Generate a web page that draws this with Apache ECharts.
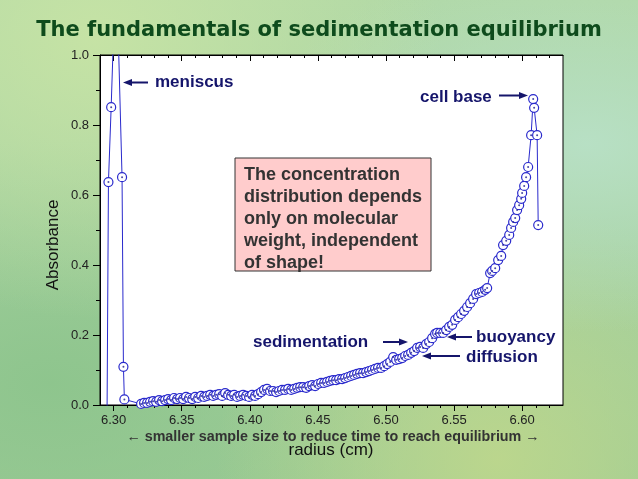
<!DOCTYPE html>
<html>
<head>
<meta charset="utf-8">
<script src="https://cdn.jsdelivr.net/npm/echarts@6/dist/echarts.min.js"></script>
<style>
  html, body { margin: 0; padding: 0; }
  #chart {
    width: 638px; height: 479px;
    background:
      radial-gradient(ellipse at 15% 8%, rgba(200,228,165,0.9), rgba(200,228,165,0) 45%),
      radial-gradient(ellipse at 92% 30%, rgba(185,225,200,0.9), rgba(185,225,200,0) 40%),
      radial-gradient(ellipse at 78% 96%, rgba(190,215,140,0.9), rgba(190,215,140,0) 40%),
      radial-gradient(ellipse at 8% 80%, rgba(140,196,140,0.9), rgba(140,196,140,0) 45%),
      linear-gradient(180deg, #b0d8a6 0%, #a6d1a0 50%, #9ccb96 100%);
  }
</style>
</head>
<body>
<div id="chart"></div>
<script>
// radius (cm) / absorbance, meniscus spike first
const radius = [
  6.2949, 6.2962, 6.2982, 6.3018, 6.3062, 6.3072, 6.3079,
  6.3202, 6.3224, 6.3246, 6.3268, 6.3290, 6.3312, 6.3334, 6.3356, 6.3378, 6.3400,
  6.3422, 6.3444, 6.3466, 6.3488, 6.3510, 6.3532, 6.3554, 6.3577, 6.3599, 6.3621,
  6.3643, 6.3665, 6.3687, 6.3709, 6.3731, 6.3753, 6.3775, 6.3797, 6.3819, 6.3841,
  6.3863, 6.3885, 6.3907, 6.3929, 6.3951, 6.3973, 6.3995, 6.4017, 6.4039, 6.4061,
  6.4083, 6.4105, 6.4127, 6.4149, 6.4171, 6.4193, 6.4215, 6.4237, 6.4259, 6.4282,
  6.4304, 6.4326, 6.4348, 6.4370, 6.4392, 6.4414, 6.4436, 6.4458, 6.4480, 6.4502,
  6.4524, 6.4546, 6.4568, 6.4590, 6.4612, 6.4634, 6.4656, 6.4678, 6.4700, 6.4722,
  6.4744, 6.4766, 6.4788, 6.4810, 6.4832, 6.4854, 6.4876, 6.4898, 6.4920, 6.4942,
  6.4965, 6.4987, 6.5009, 6.5031, 6.5053, 6.5075, 6.5097, 6.5119, 6.5141, 6.5163,
  6.5185, 6.5207, 6.5229, 6.5251, 6.5273, 6.5295, 6.5317, 6.5339, 6.5361, 6.5376,
  6.5398, 6.5420, 6.5442, 6.5464, 6.5486, 6.5508, 6.5530, 6.5552, 6.5574, 6.5596,
  6.5618, 6.5640, 6.5662, 6.5684, 6.5706, 6.5728, 6.5743, 6.5765, 6.5780, 6.5802,
  6.5824, 6.5846, 6.5860, 6.5883, 6.5905, 6.5919, 6.5934, 6.5949, 6.5963, 6.5978,
  6.5993, 6.6000, 6.6015, 6.6029, 6.6044, 6.6066, 6.6081, 6.6088, 6.6110, 6.6118
];
const absorbance = [
  -0.200, 0.637, 0.851, 1.286, 0.651, 0.109, 0.016,
  0.003, 0.006, 0.006, 0.009, 0.011, 0.009, 0.014, 0.011, 0.014, 0.017,
  0.014, 0.020, 0.017, 0.020, 0.017, 0.023, 0.020, 0.017, 0.023, 0.020,
  0.026, 0.023, 0.026, 0.029, 0.026, 0.029, 0.031, 0.026, 0.034, 0.029,
  0.026, 0.029, 0.023, 0.026, 0.029, 0.026, 0.023, 0.029, 0.026, 0.031,
  0.037, 0.043, 0.046, 0.040, 0.040, 0.037, 0.040, 0.043, 0.043, 0.046,
  0.043, 0.046, 0.049, 0.051, 0.051, 0.049, 0.054, 0.057, 0.054, 0.060,
  0.063, 0.063, 0.066, 0.069, 0.071, 0.071, 0.074, 0.074, 0.077, 0.080,
  0.083, 0.086, 0.089, 0.091, 0.091, 0.094, 0.097, 0.100, 0.103, 0.106,
  0.106, 0.111, 0.117, 0.123, 0.137, 0.129, 0.131, 0.134, 0.140, 0.143,
  0.149, 0.154, 0.163, 0.166, 0.163, 0.174, 0.180, 0.191, 0.203, 0.206,
  0.206, 0.206, 0.214, 0.223, 0.229, 0.243, 0.251, 0.260, 0.269, 0.280,
  0.291, 0.303, 0.317, 0.320, 0.323, 0.329, 0.334, 0.377, 0.383, 0.391,
  0.414, 0.426, 0.457, 0.469, 0.486, 0.506, 0.523, 0.534, 0.557, 0.571,
  0.589, 0.606, 0.626, 0.651, 0.680, 0.771, 0.874, 0.849, 0.771, 0.514
];
const xMajor = [6.30, 6.35, 6.40, 6.45, 6.50, 6.55, 6.60];
const xMinor = [6.31, 6.32, 6.33, 6.34, 6.36, 6.37, 6.38, 6.39, 6.41, 6.42, 6.43, 6.44,
  6.46, 6.47, 6.48, 6.49, 6.51, 6.52, 6.53, 6.54, 6.56, 6.57, 6.58, 6.59, 6.61, 6.62];

const navy = '#15156b';
const blue = '#2a2acc';
const FONT = '"Liberation Sans", Arial, sans-serif';

const points = radius.map((r, i) => [r, absorbance[i]]);

// arrow = shaft + filled head, tip at x2
function arrow(x1, x2, y) {
  const dir = x2 > x1 ? 1 : -1;
  const base = x2 - dir * 9;
  return [
    { type: 'line', shape: { x1: x1, y1: y, x2: base, y2: y }, style: { stroke: navy, lineWidth: 2 } },
    { type: 'polygon', shape: { points: [[x2, y], [base, y - 3.5], [base, y + 3.5]] }, style: { fill: navy } }
  ];
}
function label(text, x, y, size) {
  return {
    type: 'text',
    style: { text: text, x: x, y: y, font: 'bold ' + size + 'px ' + FONT, fill: navy,
      align: 'left', verticalAlign: 'middle', textAlign: 'left', textVerticalAlign: 'middle' }
  };
}

const chart = echarts.init(document.getElementById('chart'));

const tickLine = { lineStyle: { color: '#000', width: 1 } };
const xBase = { type: 'value', min: 6.29, max: 6.63, splitLine: { show: false } };

const option = {
  animation: false,
  grid: {
    left: 100, right: 75, top: 55, bottom: 74,
    show: true, backgroundColor: '#fff', borderColor: '#000', borderWidth: 1
  },
  xAxis: [
    Object.assign({}, xBase, {
      position: 'bottom',
      axisLine: { show: true, lineStyle: { color: '#000', width: 1 } },
      axisTick: Object.assign({ show: true, customValues: xMajor, length: 6, inside: false }, tickLine),
      axisLabel: { customValues: xMajor, formatter: v => v.toFixed(2), fontSize: 13,
        fontFamily: FONT, color: '#222', margin: 9 }
    }),
    Object.assign({}, xBase, {
      position: 'bottom',
      axisLine: { show: false },
      axisTick: Object.assign({ show: true, customValues: xMinor, length: 3, inside: false }, tickLine),
      axisLabel: { show: false }
    }),
    Object.assign({}, xBase, {
      position: 'top',
      axisLine: { show: true, lineStyle: { color: '#000', width: 1 } },
      axisTick: Object.assign({ show: true, customValues: xMajor, length: 6, inside: true }, tickLine),
      axisLabel: { show: false }
    }),
    Object.assign({}, xBase, {
      position: 'top',
      axisLine: { show: false },
      axisTick: Object.assign({ show: true, customValues: xMinor, length: 3, inside: true }, tickLine),
      axisLabel: { show: false }
    })
  ],
  yAxis: {
    type: 'value', min: 0, max: 1, interval: 0.2,
    axisLine: { show: true, lineStyle: { color: '#000', width: 1 } },
    axisTick: Object.assign({ show: true, length: 7 }, tickLine),
    minorTick: { show: true, splitNumber: 2, length: 4, lineStyle: { color: '#000', width: 1 } },
    splitLine: { show: false },
    axisLabel: { formatter: v => v.toFixed(1), fontSize: 13, fontFamily: FONT, color: '#222', margin: 11 }
  },
  series: [
    {
      type: 'line',
      data: points,
      clip: true,
      symbol: 'circle',
      symbolSize: 9,
      showAllSymbol: true,
      lineStyle: { color: blue, width: 1 },
      itemStyle: { color: '#fff', borderColor: blue, borderWidth: 1.2 },
      z: 2
    },
    {
      type: 'scatter',
      data: points,
      clip: true,
      symbol: 'circle',
      symbolSize: 2,
      itemStyle: { color: '#1c1c90' },
      silent: true,
      z: 3
    }
  ],
  graphic: [
    { type: 'text', style: { text: 'The fundamentals of sedimentation equilibrium', x: 319, y: 31,
      font: 'bold 21px "DejaVu Sans", sans-serif', fill: '#0e4b1c',
      align: 'center', verticalAlign: 'middle', textAlign: 'center', textVerticalAlign: 'middle' } },
    { type: 'text', rotation: Math.PI / 2, x: 53, y: 245,
      style: { text: 'Absorbance', x: 0, y: 0, font: '17px ' + FONT, fill: '#111',
        align: 'center', verticalAlign: 'middle', textAlign: 'center', textVerticalAlign: 'middle' } },
    { type: 'text', style: { text: 'radius (cm)', x: 331, y: 450, font: '17px ' + FONT, fill: '#111',
      align: 'center', verticalAlign: 'middle', textAlign: 'center', textVerticalAlign: 'middle' } },
    { type: 'text', style: { text: '\u2190 smaller sample size to reduce time to reach equilibrium \u2192',
      x: 333, y: 437, font: 'bold 14.3px ' + FONT, fill: '#333',
      align: 'center', verticalAlign: 'middle', textAlign: 'center', textVerticalAlign: 'middle' } },
    { type: 'rect', shape: { x: 235, y: 158, width: 196, height: 113 },
      style: { fill: '#ffcccc', stroke: '#333', lineWidth: 1 }, z: 10 },
    { type: 'text', z: 11, style: {
      text: 'The concentration\ndistribution depends\nonly on molecular\nweight, independent\nof shape!',
      x: 244, y: 164, font: 'bold 18px ' + FONT, fill: '#333', lineHeight: 22,
      align: 'left', verticalAlign: 'top', textAlign: 'left', textVerticalAlign: 'top' } },
    label('meniscus', 155, 82, 17),
    label('cell base', 420, 97, 17),
    label('sedimentation', 253, 342, 17),
    label('buoyancy', 476, 337, 17),
    label('diffusion', 466, 357, 17)
  ].concat(
    arrow(148, 123, 82.5),
    arrow(499, 528, 95.5),
    arrow(383, 408, 342),
    arrow(472, 447, 337),
    arrow(460, 422, 356)
  )
};

chart.setOption(option);
</script>
</body>
</html>
